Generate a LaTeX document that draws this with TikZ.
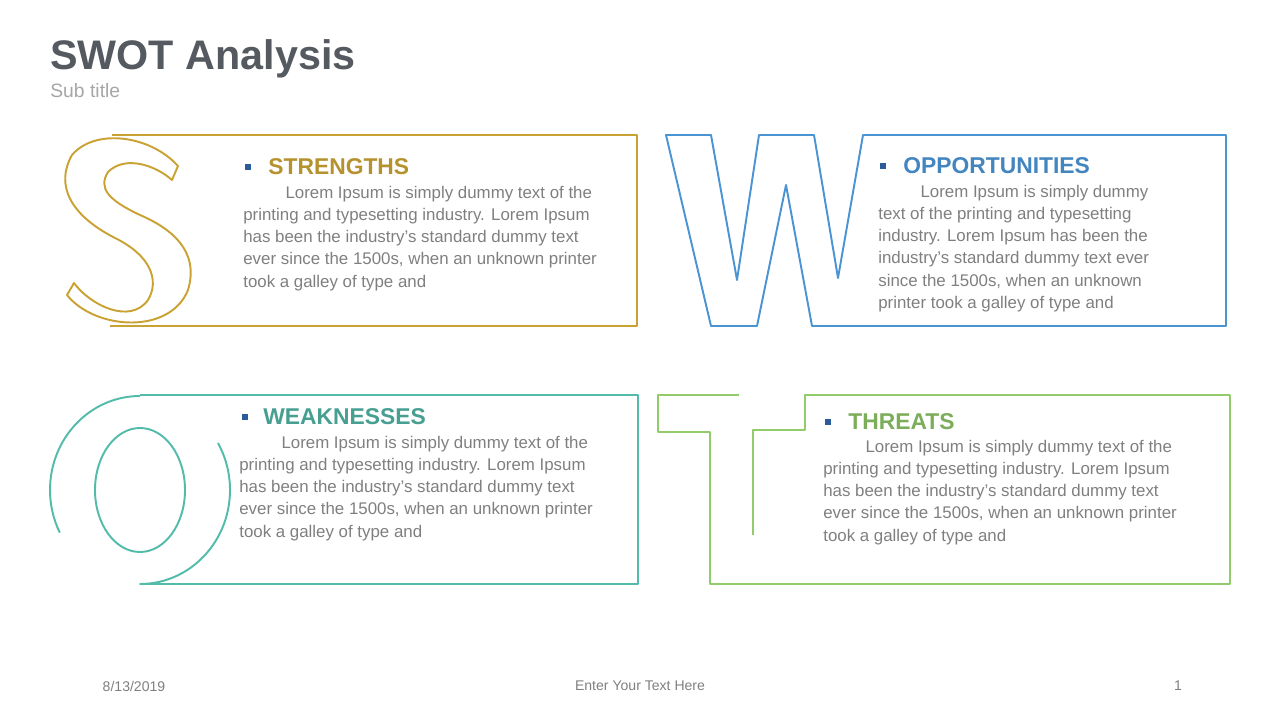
\documentclass[tikz,border=0pt]{standalone}
\usepackage{fontspec}
\setmainfont{Liberation Sans}
\usepackage{xcolor}
\definecolor{sgold}{HTML}{C9A233}
\definecolor{wblue}{HTML}{4A94D4}
\definecolor{oteal}{HTML}{52BBAA}
\definecolor{tgreen}{HTML}{92CC6A}
\definecolor{bulletblue}{HTML}{2A5C9C}
\definecolor{bodygray}{HTML}{7F7F7F}
\definecolor{titlegray}{HTML}{555A60}
\usetikzlibrary{positioning}

\begin{document}
\begin{tikzpicture}[
    x=0.02cm, y=-0.02cm,
    outline/.style={line width=1.1pt, line join=round},
    head/.style={anchor=west, inner sep=0, font=\fontsize{13}{15}\selectfont\bfseries},
    bullet/.style={fill=bulletblue, minimum size=3.4pt, inner sep=0},
    body/.style={anchor=north west, inner sep=0, align=left, text=bodygray, font=\fontsize{9.6}{12.6}\selectfont},
    foot/.style={inner sep=0, text=bodygray, font=\fontsize{8}{10}\selectfont}
]
    \useasboundingbox (0,0) rectangle (1280,719);

    % Title
    \node[anchor=base west, inner sep=0, text=titlegray, font=\fontsize{23.5}{28}\selectfont\bfseries] (title) at (50,70) {SWOT Analysis};
    \node[anchor=base west, inner sep=0, text=gray!70, font=\fontsize{11}{13}\selectfont] (subtitle) at (50,98) {Sub title};

    % S
    \draw[sgold, outline] (178,166) .. controls (150,135) and (95,128) .. (72,155)
        .. controls (55,185) and (70,215) .. (115,238) .. controls (150,255) and (160,280) .. (148,300)
        .. controls (130,325) and (90,305) .. (74,283) -- (67,295)
        .. controls (95,330) and (170,335) .. (188,290) .. controls (200,250) and (170,228) .. (140,215)
        .. controls (108,200) and (98,188) .. (108,172) .. controls (125,155) and (155,165) .. (172,180) -- cycle;
    \draw[sgold, outline] (112,135) -- (637,135) -- (637,326) -- (110,326);

    % W
    \draw[wblue, outline] (666,135) -- (711,135) -- (737,280) -- (759,135) -- (814,135) -- (838,278)
        -- (863,135) -- (1226,135) -- (1226,326) -- (812,326) -- (786,185) -- (757,326) -- (711,326) -- cycle;

    % O
    \draw[oteal, outline] (140,395) -- (638,395) -- (638,584) -- (140,584) arc[start angle=-90, end angle=30, x radius=90, y radius=-94];
    \draw[oteal, outline] (140,396) arc[start angle=90, end angle=207, x radius=90, y radius=-94];
    \draw[oteal, outline] (140,490) ellipse[x radius=45, y radius=62];

    % T
    \draw[tgreen, outline] (739,395) -- (658,395) -- (658,432) -- (710,432) -- (710,584) -- (1230,584)
        -- (1230,395) -- (805,395) -- (805,430) -- (753,430) -- (753,535);

    % Strengths
    \node[bullet] (sb) at (248,167) {};
    \node[head, text=sgold!90!black] (sh) at (268,167) {STRENGTHS};
    \node[body] (st) at (243,186) {\hspace*{24pt}Lorem Ipsum is simply dummy text of the\\printing and typesetting industry. Lorem Ipsum\\has been the industry's standard dummy text\\ever since the 1500s, when an unknown printer\\took a galley of type and};

    % Opportunities
    \node[bullet] (wb) at (883,166) {};
    \node[head, text=wblue!90!black] (wh) at (903,166) {OPPORTUNITIES};
    \node[body] (wt) at (878,185) {\hspace*{24pt}Lorem Ipsum is simply dummy\\text of the printing and typesetting\\industry. Lorem Ipsum has been the\\industry's standard dummy text ever\\since the 1500s, when an unknown\\printer took a galley of type and};

    % Weaknesses
    \node[bullet] (ob) at (245,417) {};
    \node[head, text=oteal!85!black] (oh) at (263,417) {WEAKNESSES};
    \node[body] (ot) at (239,436) {\hspace*{24pt}Lorem Ipsum is simply dummy text of the\\printing and typesetting industry. Lorem Ipsum\\has been the industry's standard dummy text\\ever since the 1500s, when an unknown printer\\took a galley of type and};

    % Threats
    \node[bullet] (tb) at (828,422) {};
    \node[head, text=tgreen!85!black] (th) at (848,422) {THREATS};
    \node[body] (tt) at (823,440) {\hspace*{24pt}Lorem Ipsum is simply dummy text of the\\printing and typesetting industry. Lorem Ipsum\\has been the industry's standard dummy text\\ever since the 1500s, when an unknown printer\\took a galley of type and};

    % Footer
    \node[foot] (date) at (134,686) {8/13/2019};
    \node[foot] (footer) at (640,686) {Enter Your Text Here};
    \node[foot] (page) at (1178,686) {1};
\end{tikzpicture}
\end{document}
